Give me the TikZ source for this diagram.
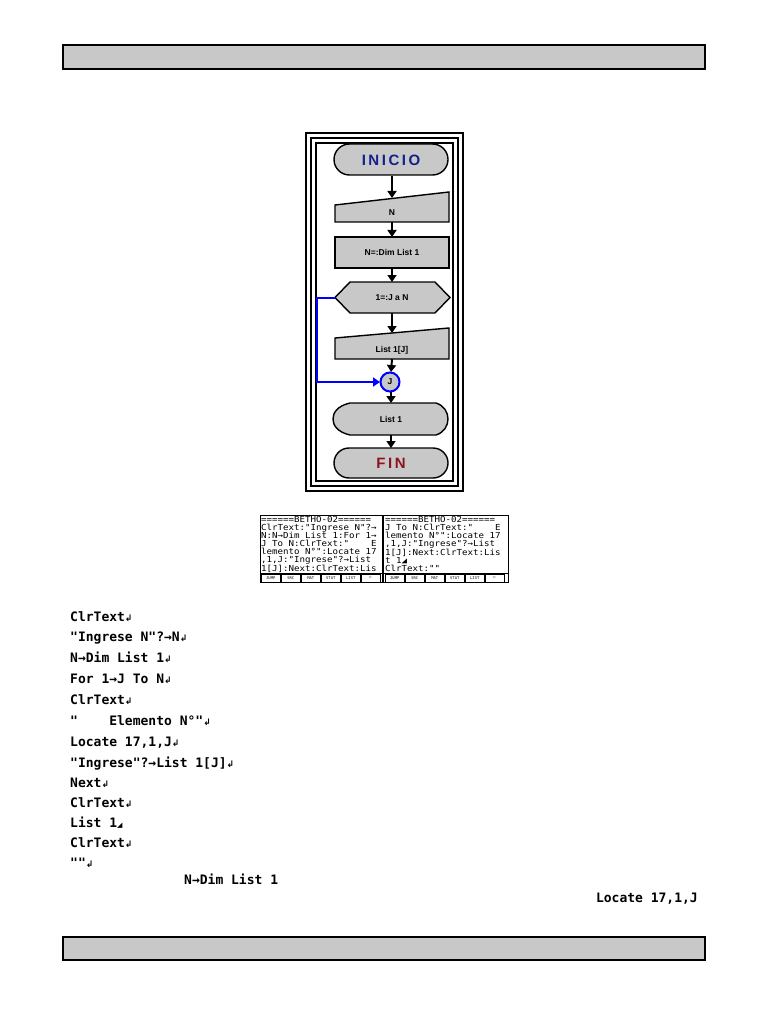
\documentclass[tikz,border=0pt]{standalone}
\usepackage{fontspec}
\setmainfont{Liberation Sans}
\newfontfamily\cmono{DejaVu Sans Mono}
\newfontfamily\scrfont[FakeStretch=1.1]{DejaVu Sans Mono}
\newfontfamily\dsym{DejaVu Sans}
\usetikzlibrary{arrows.meta,shapes.geometric}
\definecolor{fgray}{RGB}{200,200,200}
\definecolor{inired}{RGB}{140,20,30}
\definecolor{iniblue}{RGB}{20,30,140}
\newcommand{\ret}{{\dsym\fontsize{9}{9}\selectfont ↲}}
\begin{document}
\begin{tikzpicture}[x=1pt,y=-1pt,
  shp/.style={draw=black,line width=1.4pt,fill=fgray},
  arr/.style={-{Triangle[length=7pt,width=9pt]},line width=2pt},
  lbl/.style={font=\bfseries\fontsize{8.5}{8.5}\selectfont},
  codeline/.style={anchor=base west,font=\cmono\bfseries\fontsize{13}{13}\selectfont,inner sep=0pt},
  scr/.style={anchor=north west,inner sep=0pt,align=left,font=\scrfont\fontsize{8.3}{8.1}\selectfont},
  mbtn/.style={draw,fill=white,line width=0.5pt,minimum width=19pt,minimum height=8pt,inner sep=0pt,font=\cmono\fontsize{3.8}{4}\selectfont,anchor=north west}]
\useasboundingbox (0,0) rectangle (768,1024);
\fill[white] (0,0) rectangle (768,1024);
% bars
\draw[fill=fgray,line width=1.4pt] (63,45) rectangle (705,69);
\draw[fill=fgray,line width=1.4pt] (63,937) rectangle (705,960);
% flowchart frame
\draw[line width=2.5pt] (306,133) rectangle (463,491);
\draw[line width=1.2pt] (311,138) rectangle (458,486);
\draw[line width=2.5pt] (316,143) rectangle (453,481);
% shapes
\draw[shp,rounded corners=15.5pt] (334,144) rectangle (448,175);
\node[font=\bfseries\fontsize{15}{15}\selectfont,text=iniblue] (ini) at (391,160) {I\,N\,I\,C\,I\,O};
\draw[shp] (335,205) -- (449,192) -- (449,222) -- (335,222) -- cycle;
\node[lbl] (n) at (392,213) {N};
\draw[shp] (335,237) rectangle (449,268);
\node[lbl] (dim) at (392,252.5) {N=:Dim List 1};
\draw[shp] (335,297.5) -- (350,282) -- (435,282) -- (450,297.5) -- (435,313) -- (350,313) -- cycle;
\node[lbl] (for) at (392,297.5) {1=:J a N};
\draw[shp] (335,338) -- (449,328) -- (449,359) -- (335,359) -- cycle;
\node[lbl] (l1j) at (392,350) {List 1[J]};
\draw[draw=blue,line width=2pt,fill=fgray] (390,382) circle (9.5);
\node[lbl] (j) at (390,382) {J};
\draw[shp] (350,403) -- (436,403) .. controls (452,408) and (452,430) .. (436,435) -- (350,435) .. controls (337,432) and (333,425) .. (333,419) .. controls (333,413) and (337,406) .. (350,403) -- cycle;
\node[lbl] (l1) at (391,419) {List 1};
\draw[shp,rounded corners=15pt] (334,448) rectangle (448,478);
\node[font=\bfseries\fontsize{15}{15}\selectfont,text=inired] (fin) at (391,463.5) {F\,I\,N};
% arrows
\coordinate (a1) at (392,176); \coordinate (b1) at (392,198);
\coordinate (a2) at (392,222); \coordinate (b2) at (392,237);
\coordinate (a3) at (392,268); \coordinate (b3) at (392,282);
\coordinate (a4) at (392,313); \coordinate (b4) at (392,333);
\coordinate (a5) at (392,359); \coordinate (b5) at (391,372);
\coordinate (a6) at (391,392); \coordinate (b6) at (391,403);
\coordinate (a7) at (391,435); \coordinate (b7) at (391,448);
\foreach \i in {1,...,7} \draw[arr] (a\i) -- (b\i);
\coordinate (hl) at (335,297.5);
\draw[blue,line width=2pt,-{Triangle[length=7pt,width=9pt]}] (hl) -- (317,297.5) -- (317,382) -- (380,382);
% calculator screens
\draw[line width=0.8pt] (260,515) rectangle (508,582);
\draw[line width=1.5pt] (383,515) -- (383,582);
\node[scr] (s1) at (261,516) {======BETHO-02======\\ClrText:"Ingrese N"?→\\N:N→Dim List 1:For 1→\\J To N:ClrText:"~~~~E\\lemento N°":Locate 17\\,1,J:"Ingrese"?→List\\1[J]:Next:ClrText:Lis};
\node[scr] (s2) at (385,516) {======BETHO-02======\\J To N:ClrText:"~~~~E\\lemento N°":Locate 17\\,1,J:"Ingrese"?→List\\1[J]:Next:ClrText:Lis\\t 1◢\\ClrText:""};
\draw[line width=0.6pt] (260,573) -- (508,573);
\foreach \x/\t in {261/JUMP,281/SRC,301/MAT,321/STAT,341/LIST,361/▷} \node[mbtn] at (\x,573.5) {\t};
\foreach \x/\t in {385/JUMP,405/SRC,425/MAT,445/STAT,465/LIST,485/▷} \node[mbtn] at (\x,573.5) {\t};
% code
\node[codeline] (c1) at (70,621) {ClrText\ret};
\node[codeline] (c2) at (70,641) {"Ingrese N"?→N\ret};
\node[codeline] (c3) at (70,662) {N→Dim List 1\ret};
\node[codeline] (c4) at (70,683) {For 1→J To N\ret};
\node[codeline] (c5) at (70,704) {ClrText\ret};
\node[codeline] (c6) at (70,725) {"~~~~Elemento N°"\ret};
\node[codeline] (c7) at (70,746) {Locate 17,1,J\ret};
\node[codeline] (c8) at (70,767) {"Ingrese"?→List 1[J]\ret};
\node[codeline] (c9) at (70,787) {Next\ret};
\node[codeline] (c10) at (70,807) {ClrText\ret};
\node[codeline] (c11) at (70,827) {List 1{\dsym\fontsize{7}{7}\selectfont ◢}};
\node[codeline] (c12) at (70,847) {ClrText\ret};
\node[codeline] (c13) at (70,867) {""\ret};
\node[codeline] (c14) at (184,884) {N→Dim List 1};
\node[codeline,anchor=base east] (c15) at (698,902) {Locate 17,1,J};
\end{tikzpicture}
\end{document}
